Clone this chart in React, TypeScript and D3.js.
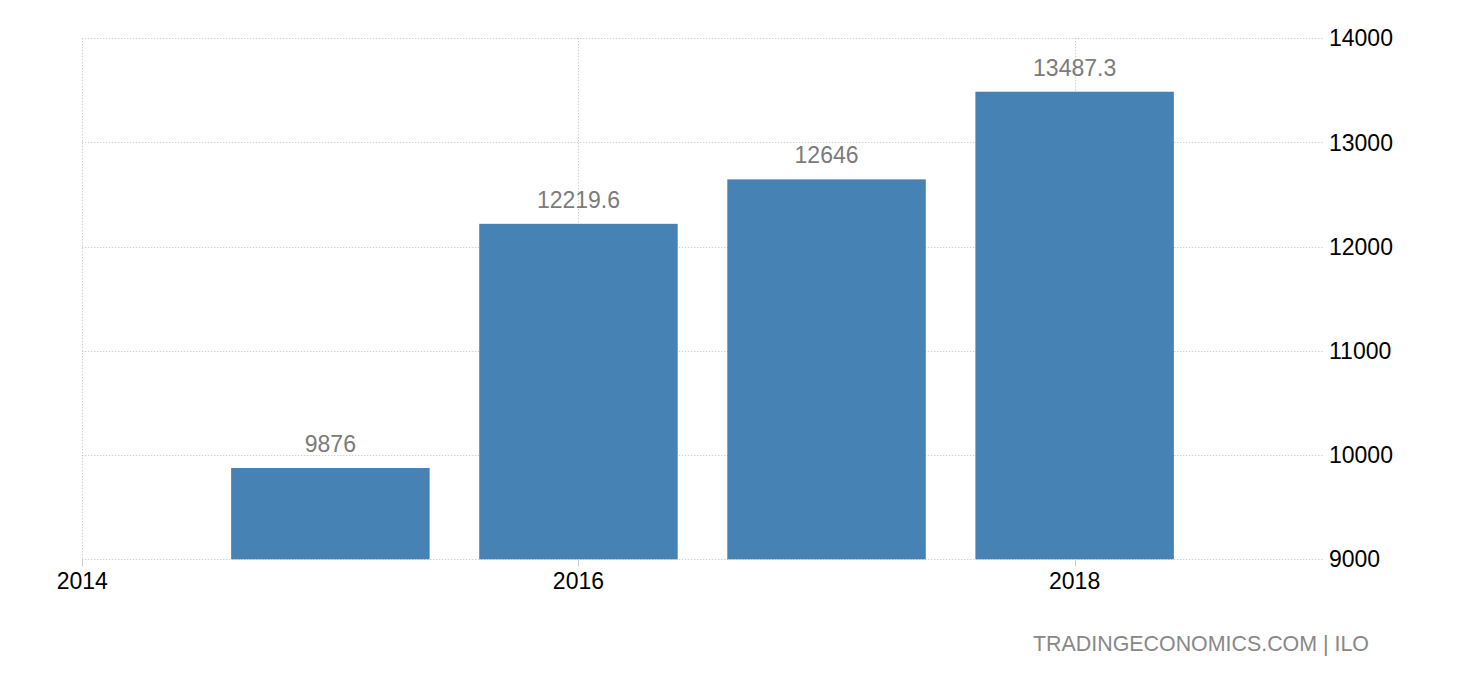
import * as d3 from 'd3';

// Data
const years = [2015, 2016, 2017, 2018];
const values = [9876, 12219.6, 12646, 13487.3];
const valueLabels = ['9876', '12219.6', '12646', '13487.3'];
const xTickYears = [2014, 2016, 2018];
const yTicks = [9000, 10000, 11000, 12000, 13000, 14000];
const source = 'TRADINGECONOMICS.COM | ILO';

const W = 1460;
const H = 680;
const FONT = '"Liberation Sans", Arial, sans-serif';

export default function App() {
  const x = d3.scaleLinear().domain([2014, 2019]).range([82.3, 1322.7]);
  const y = d3.scaleLinear().domain([9000, 14000]).range([559.3, 38.3]);
  const half = 0.4; // bar half-width in years

  return (
    <div style={{ position: 'fixed', left: 0, top: 0, background: '#fff' }}>
      <svg width={W} height={H} style={{ display: 'block' }}>
        {/* horizontal grid */}
        {yTicks.map(t => (
          <line
            key={'hg' + t}
            x1={x(2014)}
            x2={x(2019)}
            y1={Math.round(y(t)) + 0.5}
            y2={Math.round(y(t)) + 0.5}
            stroke="#bdbdbd"
            strokeWidth={1}
            strokeDasharray="1,2"
          />
        ))}
        {/* vertical grid */}
        {xTickYears.map(t => (
          <line
            key={'vg' + t}
            x1={Math.round(x(t)) + 0.5}
            x2={Math.round(x(t)) + 0.5}
            y1={y(14000)}
            y2={y(9000)}
            stroke="#bdbdbd"
            strokeWidth={1}
            strokeDasharray="1,2"
          />
        ))}

        {/* bars */}
        {years.map((yr, i) => (
          <rect
            key={'b' + yr}
            x={x(yr - half)}
            width={x(yr + half) - x(yr - half)}
            y={y(values[i])}
            height={y(9000) - y(values[i])}
            fill="#4682b4"
          />
        ))}

        {/* value labels */}
        {years.map((yr, i) => (
          <text
            key={'v' + yr}
            x={x(yr)}
            y={y(values[i]) - 16}
            textAnchor="middle"
            fontFamily={FONT}
            fontSize={23}
            fill="#7b7b7b"
          >
            {valueLabels[i]}
          </text>
        ))}

        {/* x ticks and labels */}
        {xTickYears.map(t => (
          <g key={'xt' + t}>
            <line
              x1={Math.round(x(t)) + 0.5}
              x2={Math.round(x(t)) + 0.5}
              y1={y(9000)}
              y2={y(9000) + 7}
              stroke="#cccccc"
            />
            <text
              x={x(t)}
              y={589}
              textAnchor="middle"
              fontFamily={FONT}
              fontSize={23}
              fill="#000"
            >
              {t}
            </text>
          </g>
        ))}

        {/* y labels */}
        {yTicks.map(t => (
          <text
            key={'yl' + t}
            x={1329}
            y={y(t) + 8}
            textAnchor="start"
            fontFamily={FONT}
            fontSize={23}
            fill="#000"
          >
            {t}
          </text>
        ))}

        {/* source */}
        <text
          x={1369}
          y={650.5}
          textAnchor="end"
          fontFamily={FONT}
          fontSize={22}
          fill="#888888"
          textLength={336}
          lengthAdjust="spacingAndGlyphs"
        >
          {source}
        </text>
      </svg>
    </div>
  );
}
